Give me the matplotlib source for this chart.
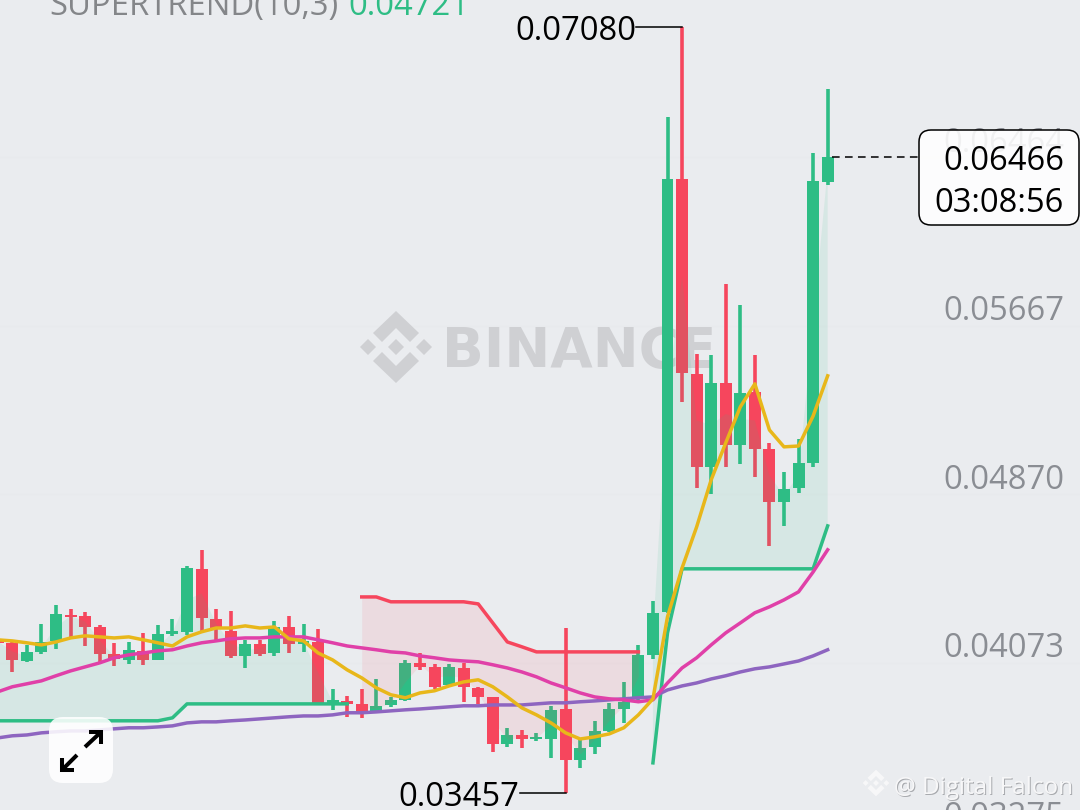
import numpy as np
import matplotlib
matplotlib.use('Agg')
import matplotlib.pyplot as plt
from matplotlib.patches import FancyBboxPatch, Polygon
from matplotlib.transforms import Affine2D, blended_transform_factory, IdentityTransform

nan = np.nan

opens = [.04182, .04168, .04082, .04125, .04177, .04300, .04295, .04243, .04116, .04087, .04130,
         .04087, .04210, .04220, .04518, .04281, .04224, .04106, .04163, .04120, .04243,
         .04163, .04172, .03879, .03893, .03879, .03846, .03874, .03898, .04073, .04054,
         .03969, .04049, .03955, .03912, .03690, .03732, .03713, .03713, .03855, .03614,
         .03676, .03751, .03855, .03908, .04111, .04314, .06362, .05440, .05000, .05397,
         .05104, .05355, .05085, .04835, .04901, .05019, .06348]
closes = [.04168, .04087, .04125, .04172, .04305, .04291, .04243, .04116, .04092, .04135, .04087,
          .04210, .04224, .04522, .04286, .04238, .04106, .04163, .04116, .04243, .04163,
          .04177, .03884, .03898, .03879, .03841, .03870, .03898, .04073, .04054, .03960,
          .04054, .03960, .03912, .03690, .03732, .03713, .03723, .03851, .03614, .03671,
          .03751, .03855, .03889, .04111, .04310, .06362, .05445, .05000, .05397, .05104,
          .05350, .05085, .04835, .04896, .05019, .06353, .06466]
highs = [.04182, .04172, .04158, .04257, .04347, .04328, .04314, .04253, .04168, .04172, .04215,
         .04253, .04281, .04532, .04608, .04328, .04319, .04182, .04182, .04272, .04295,
         .04257, .04234, .03950, .03917, .03950, .03997, .03912, .04087, .04120, .04068,
         .04068, .04073, .03960, .03912, .03766, .03756, .03742, .03870, .04238, .03713,
         .03799, .03884, .03983, .04158, .04366, .06656, .07080, .05535, .05530, .05866,
         .05766, .05530, .05114, .04976, .05132, .06485, .06788]
lows = [.04168, .04030, .04078, .04116, .04139, .04196, .04153, .04073, .04059, .04068, .04064,
        .04087, .04201, .04205, .04224, .04182, .04097, .04049, .04106, .04106, .04120,
        .04125, .03884, .03851, .03818, .03813, .03841, .03865, .03893, .04040, .03950,
        .03960, .03889, .03879, .03652, .03676, .03671, .03704, .03624, .03457, .03576,
        .03643, .03747, .03789, .03889, .04092, .04310, .05308, .04901, .04872, .05000,
        .05014, .04953, .04626, .04721, .04877, .05000, .06334]

ma7 = [.04182, .04177, .04168, .04158, .04172, .04191, .04201, .04196, .04191, .04196, .04182,
       .04168, .04153, .04196, .04220, .04238, .04238, .04248, .04238, .04243, .04187,
       .04177, .04120, .04087, .04040, .04002, .03955, .03922, .03908, .03931, .03941,
       .03964, .03983, .03993, .03960, .03912, .03860, .03827, .03789, .03742, .03713,
       .03723, .03737, .03766, .03827, .03903, .04291, .04522, .04716, .04939, .05114,
       .05284, .05393, .05175, .05095, .05099, .05241, .05431]
ma25 = [.03936, .03960, .03974, .03988, .04012, .04035, .04054, .04073, .04097, .04111, .04120,
        .04130, .04135, .04153, .04168, .04177, .04187, .04191, .04191, .04196, .04196,
        .04196, .04182, .04168, .04153, .04144, .04135, .04125, .04120, .04106, .04097,
        .04087, .04082, .04078, .04064, .04049, .04030, .04007, .03978, .03955, .03931,
        .03912, .03903, .03898, .03889, .03898, .03978, .04049, .04097, .04158, .04215,
        .04262, .04310, .04338, .04371, .04409, .04503, .04608]
ma99 = [.03718, .03728, .03732, .03742, .03747, .03751, .03751, .03756, .03761, .03766, .03766,
        .03770, .03775, .03789, .03794, .03794, .03799, .03803, .03808, .03813, .03818,
        .03822, .03822, .03827, .03837, .03837, .03841, .03846, .03851, .03855, .03860,
        .03865, .03870, .03870, .03874, .03874, .03874, .03879, .03884, .03884, .03889,
        .03893, .03898, .03903, .03908, .03912, .03945, .03964, .03978, .03997, .04012,
        .04030, .04045, .04054, .04068, .04082, .04106, .04135]

st_up = [.03799] * 12 + [.03813] + [.03879] * 12 + [nan] * 20 + [.03600, .04215] + [.04518] * 10 + [.04721]
st_down = [nan] * 25 + [.04385, .04385] + [.04362] * 6 + [.04352, .04262, .04172, .04149] + [.04125] * 8 + [nan] * 13

tick_prices = [.06464, .05667, .04870, .04073, .03275]
tick_labels = ['0.06464', '0.05667', '0.04870', '0.04073', '0.03275']
last_price = .06466
last_label = '0.06466'
countdown = '03:08:56'
high_label = '0.07080'
low_label = '0.03457'
st_name = 'SUPERTREND(10,3)'
st_value = '0.04721'

GREEN = '#2EBD85'
RED = '#F6465D'
BG = '#EAECEF'
FONT = ['Open Sans', 'DejaVu Sans']
SIZE = 23.6

plt.rcParams['font.family'] = FONT

fig = plt.figure(figsize=(10.8, 8.1), dpi=100, facecolor=BG)
ax = fig.add_axes([0, 0, 1, 1], facecolor=BG)
ax.set_xlim(.155, .155 + 1080 / 14.56)
ax.set_ylim(.03377, .07209)
ax.set_xticks([])
ax.set_yticks([])
for s in ax.spines.values():
    s.set_visible(False)

# pixel coords with origin top left, for the app chrome
px = Affine2D().scale(1, -1).translate(0, 810)

for p in tick_prices:
    ax.axhline(p, color='#E8EAED', lw=.8, zorder=0)


def logo(cx, cy, k, color, z):
    top = [(0, -36), (23, -14), (14, -5), (0, -19), (-14, -5), (-23, -14)]
    pieces = [top, [(x, -y) for x, y in top]]
    for dx in (-28, 0, 28):
        pieces.append([(dx, -8), (dx + 8, 0), (dx, 8), (dx - 8, 0)])
    for pts in pieces:
        ax.add_patch(Polygon([(cx + x * k, cy + y * k) for x, y in pts], closed=True, fc=color, ec='none',
                             transform=px, zorder=z))


logo(396, 347, 1, '#CFD0D3', 1)
ax.text(442, 367, 'BINANCE', transform=px, fontsize=39.5, fontweight='bold', family='DejaVu Sans',
        color='#CFD0D3', ha='left', va='baseline', zorder=1)

x = np.arange(len(opens))
o = np.array(opens)
c = np.array(closes)
up = c >= o
colors = np.where(up, GREEN, RED)
ax.vlines(x, lows, highs, colors=colors, lw=2.6, zorder=2)
ax.bar(x, np.abs(c - o), bottom=np.minimum(o, c), width=.82, color=colors, zorder=2)

# supertrend band runs to the middle of each candle body
mid = (o + c) / 2
su = np.array(st_up)
sd = np.array(st_down)
ax.fill_between(x, su, mid, where=~np.isnan(su), color=GREEN, alpha=.1, lw=0, zorder=3)
ax.fill_between(x, sd, mid, where=~np.isnan(sd), color=RED, alpha=.1, lw=0, zorder=3)
ax.plot(x, su, color=GREEN, lw=2.5, zorder=4)
ax.plot(x, sd, color=RED, lw=2.5, zorder=4)

ax.plot(x, ma99, color='#8E65C0', lw=2.5, zorder=5)
ax.plot(x, ma25, color='#E040A8', lw=2.5, zorder=5)
ax.plot(x, ma7, color='#E8B71A', lw=2.5, zorder=6)

# high, low and last price markers
i_high = int(np.argmax(highs))
i_low = int(np.argmin(lows))
ax.plot([i_high - 46 / 14.56, i_high], [highs[i_high]] * 2, color='black', lw=1.1, zorder=7)
ax.plot([i_low - 46 / 14.56, i_low], [lows[i_low]] * 2, color='black', lw=1.1, zorder=7)
ax.plot([x[-1] + 4 / 14.56, x[-1] + 91 / 14.56], [last_price] * 2, color='black', lw=1.1, ls=(0, (5, 3.5)),
        zorder=7)
ax.text(i_high - 46 / 14.56, highs[i_high], high_label, fontsize=SIZE, ha='right', va='center_baseline',
        color='black', zorder=8)
ax.text(i_low - 46 / 14.56, lows[i_low], low_label, fontsize=SIZE, ha='right', va='center_baseline',
        color='black', zorder=8)

# axis labels sit above their grid lines
tr = blended_transform_factory(IdentityTransform(), ax.transData) + Affine2D().translate(0, 18)
for p, lbl in zip(tick_prices, tick_labels):
    ax.text(1064, p, lbl, transform=tr, fontsize=SIZE, ha='right', va='center_baseline', color='#8A8D93',
            zorder=8, clip_on=False)

ax.text(49, 15, st_name, transform=px, fontsize=SIZE, color='#848689', ha='left', va='baseline', zorder=8)
ax.text(348, 15, st_value, transform=px, fontsize=SIZE, color=GREEN, ha='left', va='baseline', zorder=8)

ax.add_patch(FancyBboxPatch((931, 142), 136, 71, boxstyle='round,pad=12,rounding_size=12', fc=(1, 1, 1, .88),
                            ec='black', lw=1.1, transform=px, zorder=9))
ax.text(1064, 157, last_label, transform=px, fontsize=SIZE, ha='right', va='center_baseline', color='black',
        zorder=10)
ax.text(1064, 199, countdown, transform=px, fontsize=SIZE, ha='right', va='center_baseline', color='black',
        zorder=10)

# expand button
ax.add_patch(FancyBboxPatch((63, 731), 36, 38, boxstyle='round,pad=14,rounding_size=14', fc=(1, 1, 1, .88),
                            ec='none', transform=px, zorder=9))
arrows = [[(85, 747), (101, 732)], [(89, 732), (101, 732), (101, 744)],
          [(77, 755), (62, 770)], [(74, 770), (62, 770), (62, 758)]]
for pts in arrows:
    ax.plot(*zip(*pts), color='black', lw=2.9, transform=px, zorder=10, solid_capstyle='butt',
            solid_joinstyle='miter')

# author watermark
logo(876, 783, .37, '#F7F7F8', 9)
ax.text(894, 794, '@ Digital Falcon', transform=px + Affine2D().translate(1, -1), fontsize=17.5, color='#A9ABAF',
        ha='left', va='baseline', zorder=9)
ax.text(894, 794, '@ Digital Falcon', transform=px, fontsize=17.5, color='#F7F7F8', ha='left', va='baseline',
        zorder=9)

fig.savefig('out.png', dpi=100, facecolor=BG)
